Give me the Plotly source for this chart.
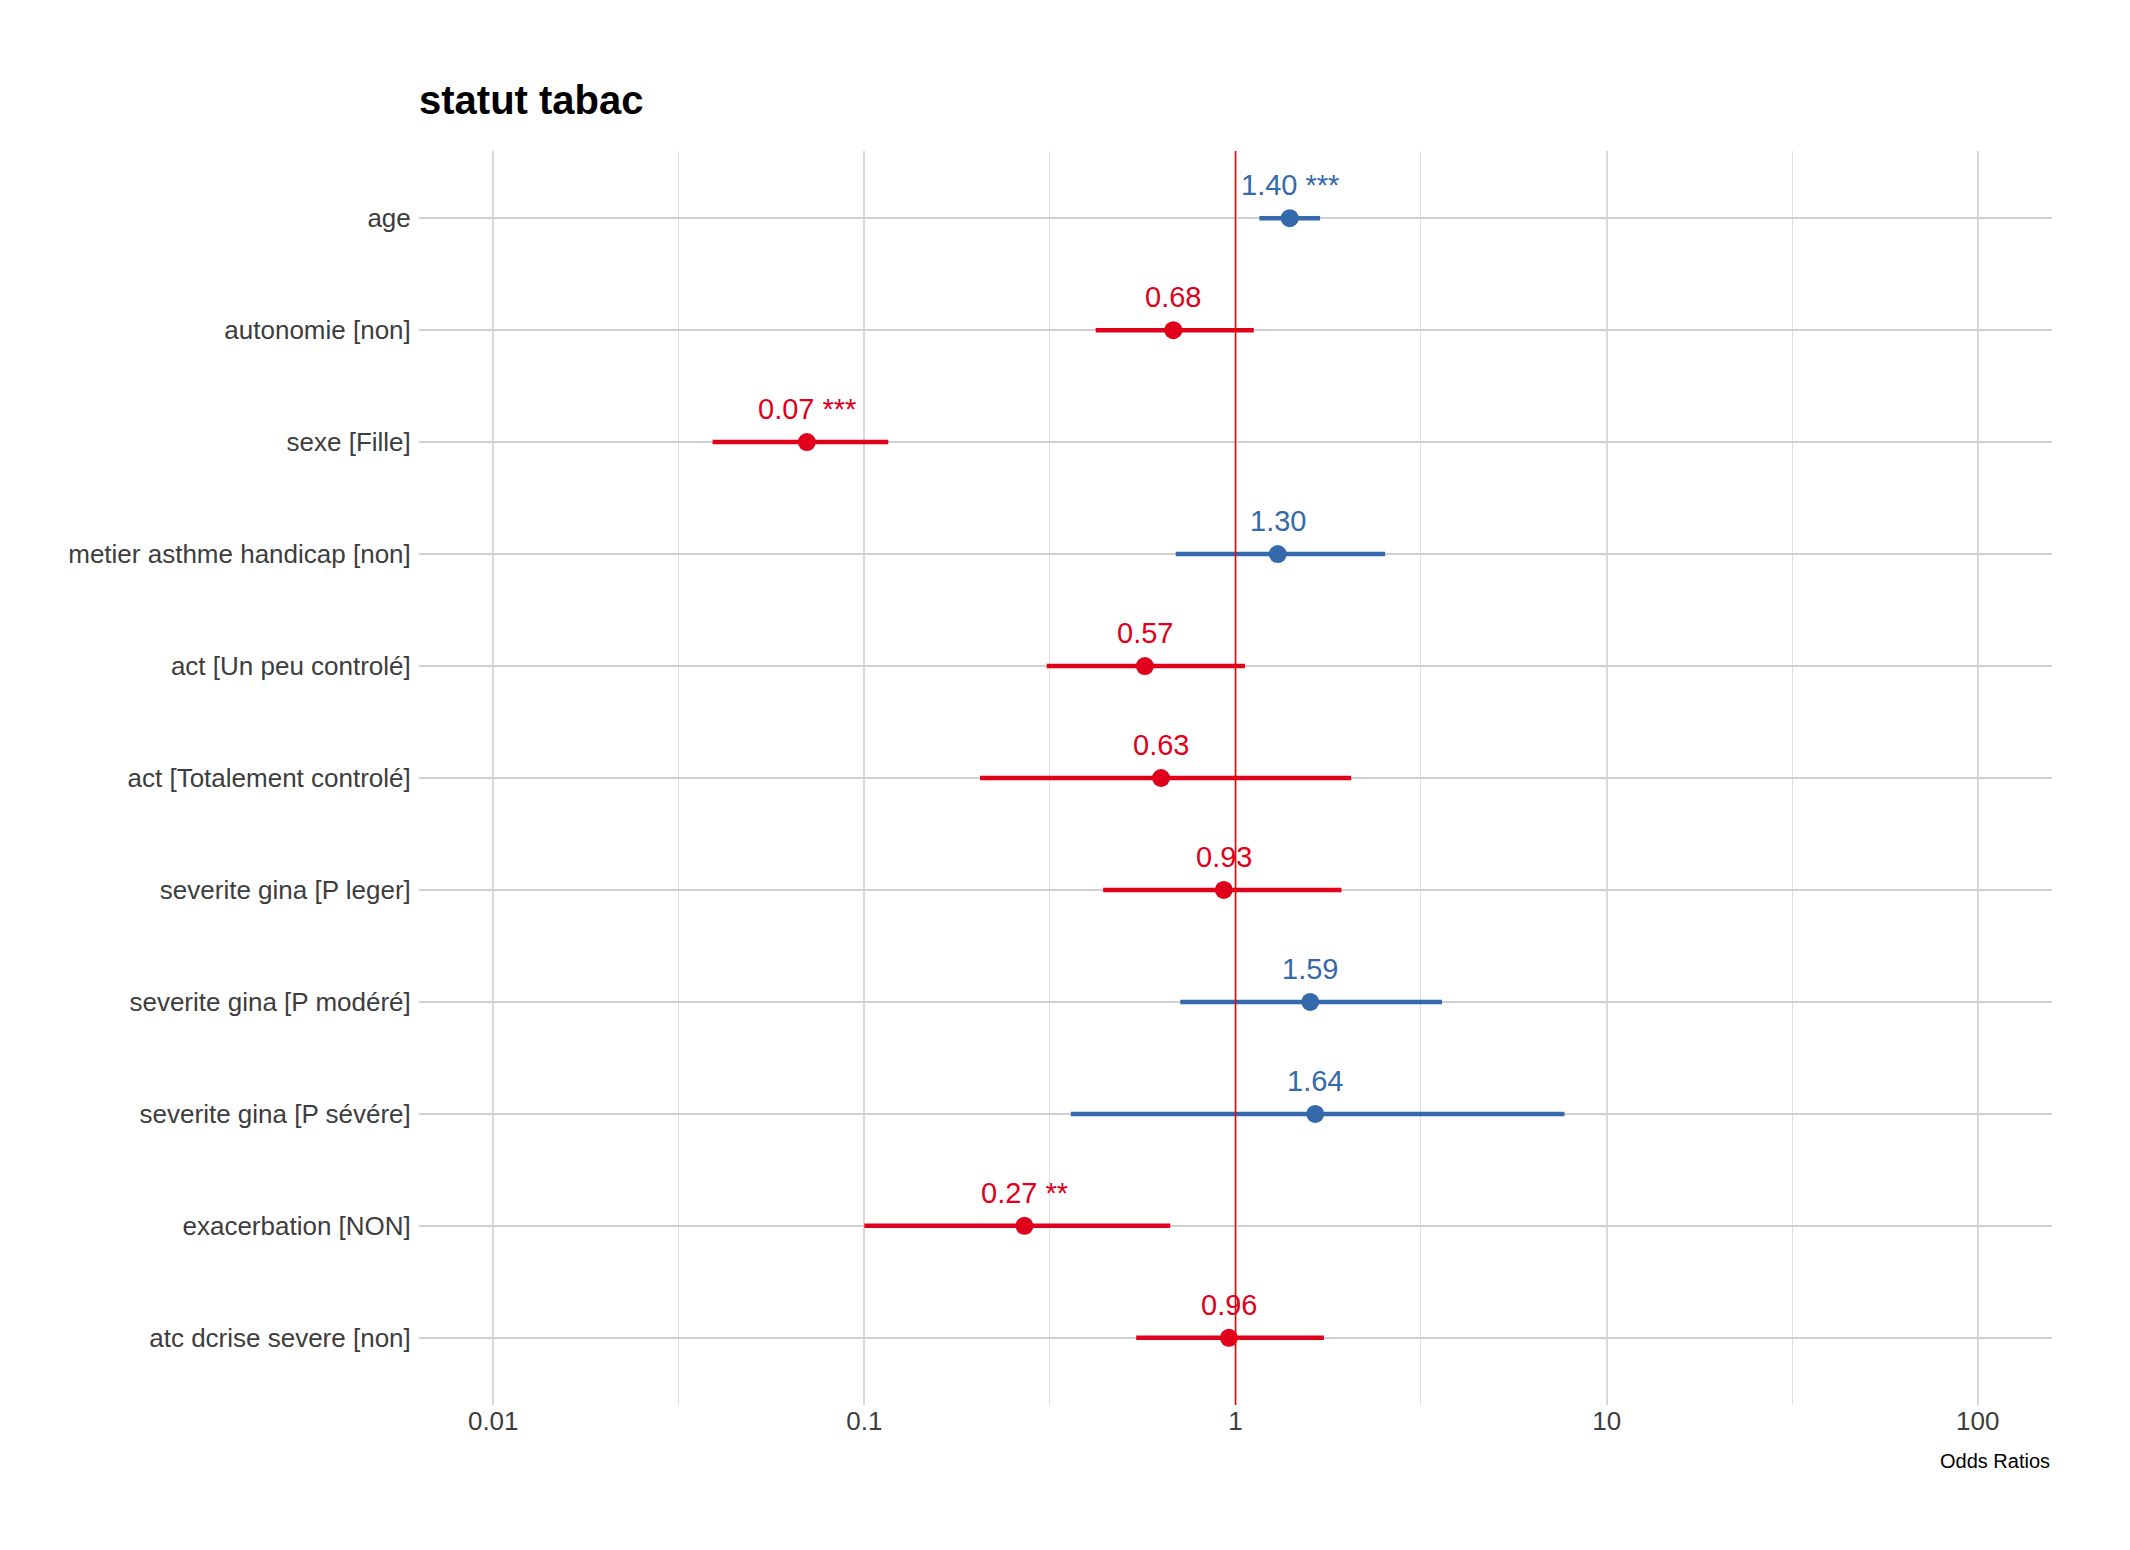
import numpy as np
import plotly.graph_objects as go

# termes du modele, de haut en bas
terms = ["age", "autonomie [non]", "sexe [Fille]", "metier asthme handicap [non]",
         "act [Un peu controlé]", "act [Totalement controlé]", "severite gina [P leger]",
         "severite gina [P modéré]", "severite gina [P sévére]", "exacerbation [NON]",
         "atc dcrise severe [non]"]
odds = [1.40, 0.68, 0.07, 1.30, 0.57, 0.63, 0.93, 1.59, 1.64, 0.27, 0.96]
ci_low = [1.16, 0.42, 0.039, 0.69, 0.31, 0.205, 0.44, 0.71, 0.36, 0.10, 0.54]
ci_high = [1.69, 1.12, 0.116, 2.53, 1.06, 2.05, 1.93, 3.60, 7.70, 0.667, 1.73]
stars = ["***", "", "***", "", "", "", "", "", "", "**", ""]

x_ticks = [0.01, 0.1, 1, 10, 100]
x_minor = [0.0316, 0.316, 3.16, 31.6]

BLUE = "#3469ab"
RED = "#e1001b"
FONT = "Liberation Sans, Arial, sans-serif"

fig = go.Figure()

for positive, col in [(True, BLUE), (False, RED)]:
    idx = [i for i in range(len(terms)) if (odds[i] > 1) == positive]
    fig.add_trace(go.Scatter(
        x=[odds[i] for i in idx],
        y=[terms[i] for i in idx],
        mode="markers",
        marker=dict(color=col, size=18),
        error_x=dict(type="data", symmetric=False,
                     array=[ci_high[i] - odds[i] for i in idx],
                     arrayminus=[odds[i] - ci_low[i] for i in idx],
                     color=col, thickness=4.5, width=0),
        hoverinfo="skip", showlegend=False))

# etiquettes des valeurs
for i, t in enumerate(terms):
    lab = "%.2f" % odds[i] + (" " + stars[i] if stars[i] else "")
    fig.add_annotation(x=np.log10(odds[i]), y=t, text=lab, showarrow=False,
                       yshift=33, font=dict(family=FONT, size=29,
                                            color=BLUE if odds[i] > 1 else RED))

fig.add_shape(type="line", xref="x", yref="paper", x0=1, x1=1, y0=0, y1=1,
              line=dict(color="#f70000", width=1.5), layer="above")

fig.add_annotation(text="Odds Ratios", xref="paper", yref="paper", x=1, y=-0.045,
                   xanchor="right", yanchor="middle", showarrow=False,
                   font=dict(family=FONT, size=20, color="black"))

fig.update_layout(
    width=2114, height=1534,
    paper_bgcolor="white", plot_bgcolor="white",
    margin=dict(l=411, r=70, t=143, b=137),
    title=dict(text="<b>statut tabac</b>", x=0, xref="paper", xanchor="left",
               y=1 - 92 / 1534, yref="container", yanchor="middle",
               font=dict(family=FONT, size=40, color="black")),
    xaxis=dict(type="log", range=[-2.2, 2.2], tickvals=x_ticks,
               ticktext=[str(v) for v in x_ticks],
               showgrid=True, gridcolor="#d9d9d9", gridwidth=1.5,
               minor=dict(tickvals=x_minor, showgrid=True, gridcolor="#dedede",
                          gridwidth=1.3, ticks=""),
               zeroline=False, showline=False,
               ticks="", ticklabelstandoff=-2,
               tickfont=dict(family=FONT, size=26, color="#3d3d3d")),
    yaxis=dict(type="category", categoryorder="array", categoryarray=terms,
               range=[len(terms) - 0.4, -0.6],
               showgrid=True, gridcolor="#d0d0d0", gridwidth=1.5,
               zeroline=False, showline=False,
               ticks="outside", ticklen=2, tickcolor="rgba(0,0,0,0)",
               tickfont=dict(family=FONT, size=26, color="#3d3d3d")),
)

fig.write_html("out.html")
